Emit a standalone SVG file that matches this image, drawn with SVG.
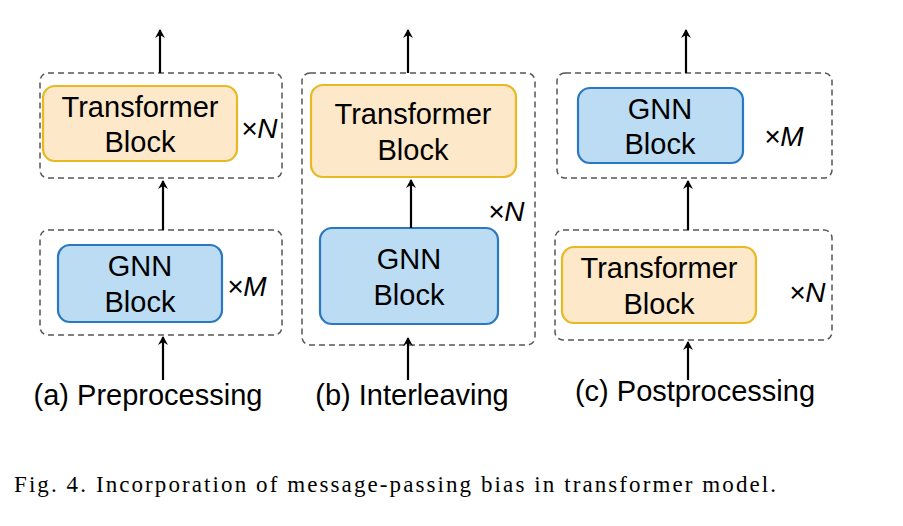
<svg xmlns="http://www.w3.org/2000/svg" width="903" height="526" viewBox="0 0 903 526">
<style>
.d{fill:none;stroke:#555;stroke-width:1.5;stroke-dasharray:6,4}
.t{fill:#fde8c9;stroke:#e8b923;stroke-width:2.2}
.g{fill:#bcdcf4;stroke:#2a78c0;stroke-width:2.2}
.x{font-family:"Liberation Sans",Arial,sans-serif;font-size:29px;text-anchor:middle;fill:#000}
.m{font-family:"Liberation Sans",Arial,sans-serif;font-size:28px;font-style:italic;fill:#000}
.a{stroke:#000;stroke-width:2.2;fill:none;marker-end:url(#ah)}
</style>
<defs><marker id="ah" markerWidth="10" markerHeight="10" refX="8" refY="5" orient="auto" markerUnits="userSpaceOnUse"><path d="M0,0 L9,5 L0,10 L3,5 z" fill="#000"/></marker></defs>
<rect width="903" height="526" fill="#fff"/>
<g id="boxes">
<rect class="d" x="40" y="73" width="242" height="105" rx="8"/>
<rect class="d" x="40" y="230" width="242" height="105" rx="8"/>
<rect class="d" x="302" y="73" width="233" height="272" rx="8"/>
<rect class="d" x="557" y="73" width="275" height="105" rx="8"/>
<rect class="d" x="555" y="230" width="277" height="110" rx="8"/>
</g>
<g id="a-transformer"><rect class="t" x="43" y="86" width="194" height="75" rx="12"/><text class="x" x="140" y="117">Transformer</text><text class="x" x="140" y="152">Block</text></g>
<g id="a-gnn"><rect class="g" x="58" y="245" width="164" height="77" rx="12"/><text class="x" x="140" y="276">GNN</text><text class="x" x="140" y="312">Block</text></g>
<g id="b-transformer"><rect class="t" x="311" y="85" width="205" height="92" rx="12"/><text class="x" x="413" y="124">Transformer</text><text class="x" x="413" y="160">Block</text></g>
<g id="b-gnn"><rect class="g" x="320" y="228" width="178" height="96" rx="12"/><text class="x" x="409" y="269">GNN</text><text class="x" x="409" y="305">Block</text></g>
<g id="c-gnn"><rect class="g" x="578" y="88" width="165" height="75" rx="12"/><text class="x" x="660" y="119">GNN</text><text class="x" x="660" y="154">Block</text></g>
<g id="c-transformer"><rect class="t" x="562" y="247" width="194" height="76" rx="12"/><text class="x" x="659" y="278">Transformer</text><text class="x" x="659" y="314">Block</text></g>
<g id="multipliers">
<text class="m" x="241" y="138">×N</text>
<text class="m" x="227" y="296">×M</text>
<text class="m" x="488" y="221">×N</text>
<text class="m" x="764" y="146">×M</text>
<text class="m" x="789" y="302">×N</text>
</g>
<g id="connectors">
<line class="a" x1="160" y1="73" x2="160" y2="30"/>
<line class="a" x1="163" y1="230" x2="163" y2="181"/>
<line class="a" x1="163" y1="380" x2="163" y2="337"/>
<line class="a" x1="408" y1="73" x2="408" y2="30"/>
<line class="a" x1="411" y1="228" x2="411" y2="180"/>
<line class="a" x1="408" y1="380" x2="408" y2="338"/>
<line class="a" x1="686" y1="73" x2="686" y2="30"/>
<line class="a" x1="688" y1="230" x2="688" y2="181"/>
<line class="a" x1="688" y1="380" x2="688" y2="342"/>
</g>
<g id="labels">
<text class="x" x="148" y="405">(a) Preprocessing</text>
<text class="x" x="412" y="405">(b) Interleaving</text>
<text class="x" x="695" y="401">(c) Postprocessing</text>
<text x="14" y="492" font-family="Liberation Serif,serif" font-size="23" textLength="762" lengthAdjust="spacing">Fig. 4.  Incorporation of message-passing bias in transformer model.</text>
</g>
</svg>
